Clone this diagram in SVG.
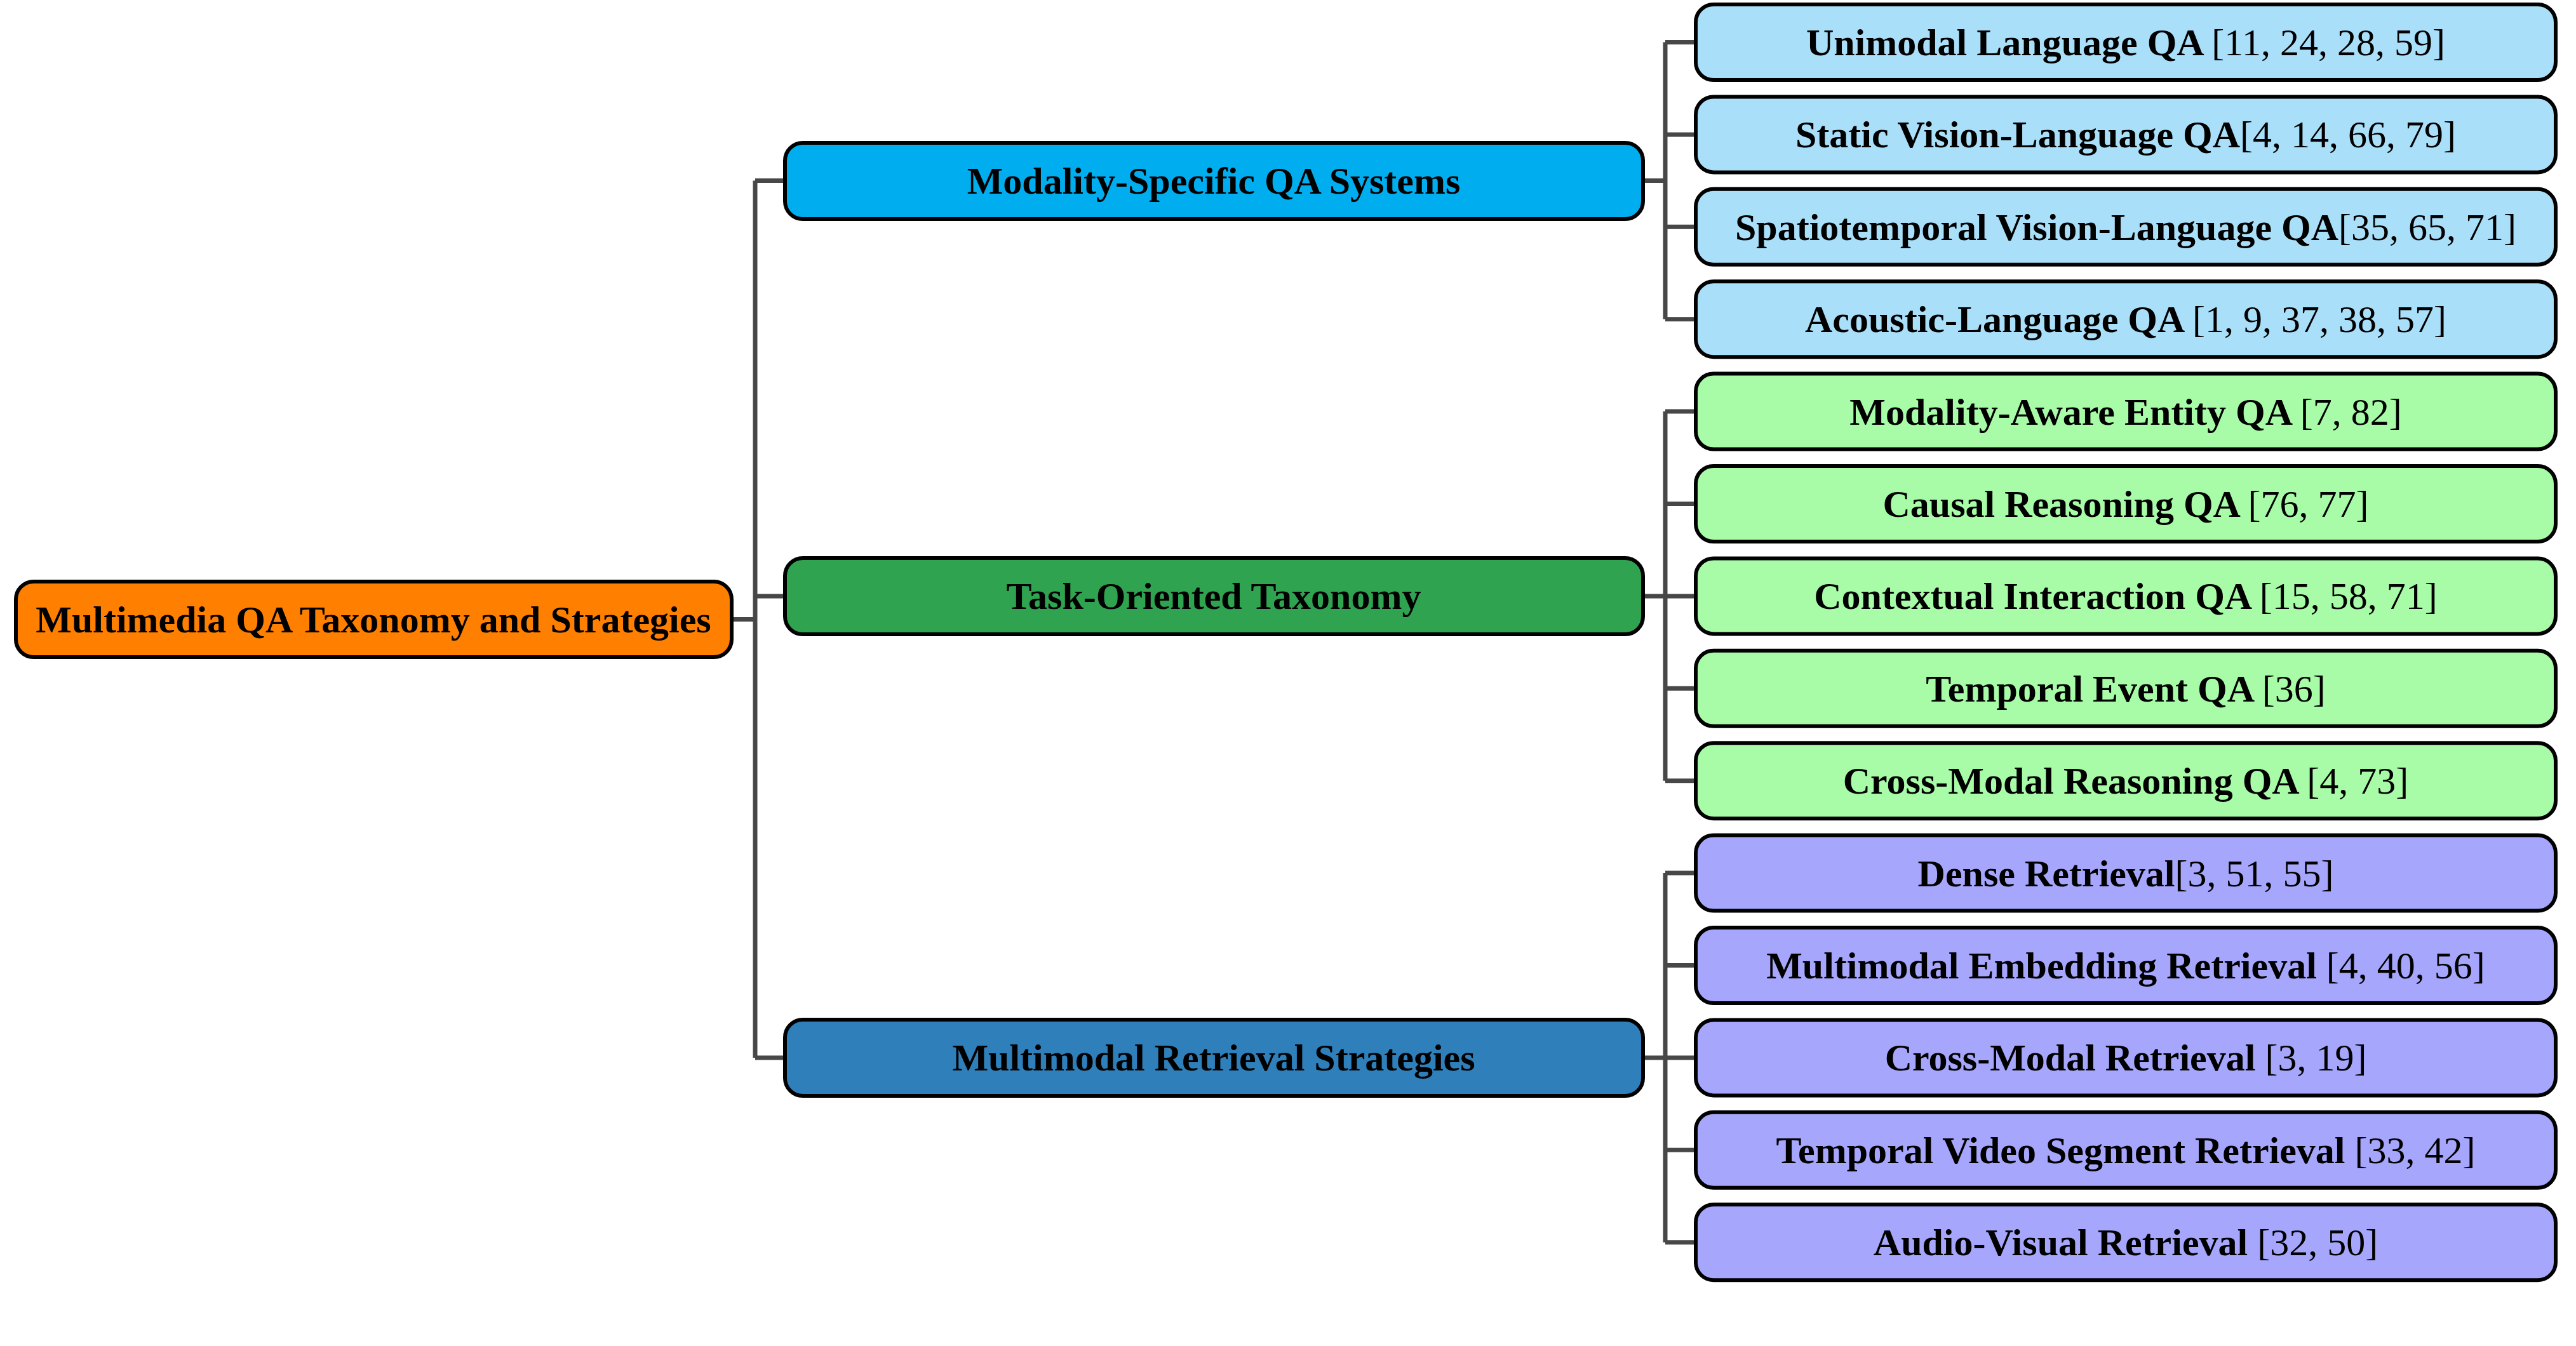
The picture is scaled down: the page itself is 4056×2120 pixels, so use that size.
<svg xmlns="http://www.w3.org/2000/svg" width="4056" height="2120" viewBox="0 0 4056 2120">
<style>
.box{stroke:#000;stroke-width:6}
.root{fill:#FF7F00}
.l1a{fill:#00AEEF}
.l1b{fill:#2FA350}
.l1c{fill:#2E7FBA}
.la{fill:#AADFF9}
.lb{fill:#A8FCA8}
.lc{fill:#A6A6FC}
text{font-family:"Liberation Serif","Times New Roman",serif;font-weight:bold;font-size:60px;fill:#000;text-anchor:middle}
.c{font-weight:normal}
.conn{fill:none;stroke:#474747;stroke-width:7}
</style>
<rect width="4056" height="2120" fill="#fff"/>
<g id="connectors" class="conn">
<path d="M1152,975.5 H1189 M1189,284.6 V1665.9 M1189,284.6 H1236 M1189,938.9 H1236 M1189,1665.9 H1236"/>
<path d="M2587,284.6 H2622 M2622,66.5 V502.7 M2622,66.5 H2670 M2622,211.9 H2670 M2622,357.3 H2670 M2622,502.7 H2670"/>
<path d="M2587,938.9 H2622 M2622,648.1 V1229.7 M2622,648.1 H2670 M2622,793.5 H2670 M2622,938.9 H2670 M2622,1084.3 H2670 M2622,1229.7 H2670"/>
<path d="M2587,1665.9 H2622 M2622,1375.1 V1956.7 M2622,1375.1 H2670 M2622,1520.5 H2670 M2622,1665.9 H2670 M2622,1811.3 H2670 M2622,1956.7 H2670"/>
</g>
<g id="root"><rect class="box root" x="25" y="916" width="1127" height="119" rx="28"/><text x="588" y="996">Multimedia QA Taxonomy and Strategies</text></g>
<g id="modality"><rect class="box l1a" x="1236" y="225" width="1351" height="120" rx="28"/><text x="1911" y="305">Modality-Specific QA Systems</text></g>
<g id="task"><rect class="box l1b" x="1236" y="879" width="1351" height="120" rx="28"/><text x="1911" y="959">Task-Oriented Taxonomy</text></g>
<g id="retrieval"><rect class="box l1c" x="1236" y="1606" width="1351" height="120" rx="28"/><text x="1911" y="1686">Multimodal Retrieval Strategies</text></g>
<g id="leaf0"><rect class="box la" x="2670" y="7" width="1354" height="119" rx="28"/><text x="3347" y="87">Unimodal Language QA <tspan class="c">[11, 24, 28, 59]</tspan></text></g>
<g id="leaf1"><rect class="box la" x="2670" y="152.4" width="1354" height="119" rx="28"/><text x="3347" y="232.4">Static Vision-Language QA<tspan class="c">[4, 14, 66, 79]</tspan></text></g>
<g id="leaf2"><rect class="box la" x="2670" y="297.8" width="1354" height="119" rx="28"/><text x="3347" y="377.8">Spatiotemporal Vision-Language QA<tspan class="c">[35, 65, 71]</tspan></text></g>
<g id="leaf3"><rect class="box la" x="2670" y="443.2" width="1354" height="119" rx="28"/><text x="3347" y="523.2">Acoustic-Language QA <tspan class="c">[1, 9, 37, 38, 57]</tspan></text></g>
<g id="leaf4"><rect class="box lb" x="2670" y="588.6" width="1354" height="119" rx="28"/><text x="3347" y="668.6">Modality-Aware Entity QA <tspan class="c">[7, 82]</tspan></text></g>
<g id="leaf5"><rect class="box lb" x="2670" y="734" width="1354" height="119" rx="28"/><text x="3347" y="814">Causal Reasoning QA <tspan class="c">[76, 77]</tspan></text></g>
<g id="leaf6"><rect class="box lb" x="2670" y="879.4" width="1354" height="119" rx="28"/><text x="3347" y="959.4">Contextual Interaction QA <tspan class="c">[15, 58, 71]</tspan></text></g>
<g id="leaf7"><rect class="box lb" x="2670" y="1024.8" width="1354" height="119" rx="28"/><text x="3347" y="1104.8">Temporal Event QA <tspan class="c">[36]</tspan></text></g>
<g id="leaf8"><rect class="box lb" x="2670" y="1170.2" width="1354" height="119" rx="28"/><text x="3347" y="1250.2">Cross-Modal Reasoning QA <tspan class="c">[4, 73]</tspan></text></g>
<g id="leaf9"><rect class="box lc" x="2670" y="1315.6" width="1354" height="119" rx="28"/><text x="3347" y="1395.6">Dense Retrieval<tspan class="c">[3, 51, 55]</tspan></text></g>
<g id="leaf10"><rect class="box lc" x="2670" y="1461" width="1354" height="119" rx="28"/><text x="3347" y="1541">Multimodal Embedding Retrieval <tspan class="c">[4, 40, 56]</tspan></text></g>
<g id="leaf11"><rect class="box lc" x="2670" y="1606.4" width="1354" height="119" rx="28"/><text x="3347" y="1686.4">Cross-Modal Retrieval <tspan class="c">[3, 19]</tspan></text></g>
<g id="leaf12"><rect class="box lc" x="2670" y="1751.8" width="1354" height="119" rx="28"/><text x="3347" y="1831.8">Temporal Video Segment Retrieval <tspan class="c">[33, 42]</tspan></text></g>
<g id="leaf13"><rect class="box lc" x="2670" y="1897.2" width="1354" height="119" rx="28"/><text x="3347" y="1977.2">Audio-Visual Retrieval <tspan class="c">[32, 50]</tspan></text></g>
</svg>
